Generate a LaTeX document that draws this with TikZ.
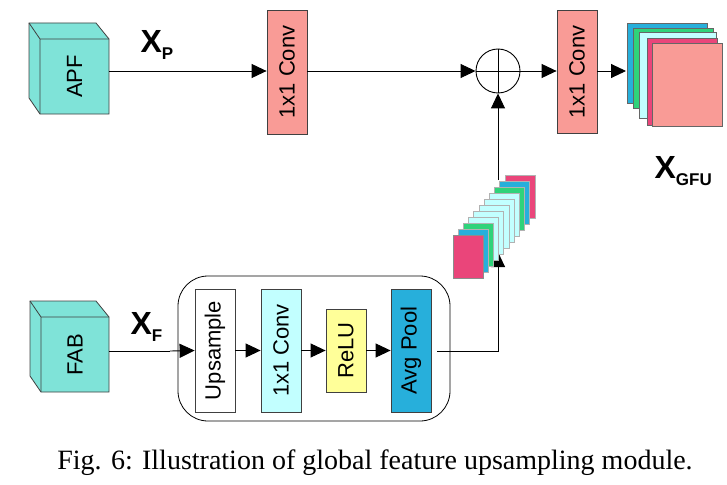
\documentclass[tikz,border=0pt]{standalone}
\usepackage{fontspec}
\setmainfont{Liberation Serif}
\setsansfont{Liberation Sans}
\usetikzlibrary{arrows.meta}
\definecolor{teal1}{HTML}{7FE3D8}
\definecolor{pinkc}{HTML}{F99B96}
\definecolor{cyanc}{HTML}{C2FFFF}
\definecolor{yel}{HTML}{FFFF99}
\definecolor{bluec}{HTML}{27AFDB}
\definecolor{greenc}{HTML}{2FD37A}
\definecolor{magc}{HTML}{EA457A}
\begin{document}
\begin{tikzpicture}[x=1pt,y=-1pt,
  lbl/.style={font=\sffamily\fontsize{22}{22}\selectfont},
  blk/.style={draw=black!75,line width=0.8pt,minimum width=40pt,inner sep=0pt,lbl},
  arr/.style={line width=0.9pt,-{Triangle[length=15pt,width=14pt]}},
  ln/.style={line width=0.9pt},
  xl/.style={font=\sffamily\bfseries\fontsize{32}{32}\selectfont}]
\useasboundingbox (0,0) rectangle (727,484);
\newcommand{\mycube}[6]{%
  \fill[teal1,draw=black!75,line width=0.8pt] (#1-11,#2-16) -- (#3-13,#2-16) -- (#3,#2) -- (#3,#4) -- (#1,#4) -- (#1-11,#4-16) -- cycle;
  \draw[black!75,line width=0.8pt] (#1-11,#2-16) -- (#1,#2) -- (#1,#4) (#1,#2) -- (#3,#2);
  \node[lbl] (#5) at ({(#1+#3)/2},{(#2+#4)/2}) {\rotatebox{90}{\MakeUppercase{#5}}};
  \coordinate (#5r) at (#3,#6);}
\mycube{40}{39}{109}{114}{apf}{71}
\mycube{41}{317}{109}{392}{fab}{351}
% top row
\node[blk,fill=pinkc,minimum height=124pt] (c1) at (287,72) {\rotatebox{90}{1x1 Conv}};
\node[draw,line width=0.9pt,circle,minimum size=44pt,inner sep=0pt] (plus) at (498,71) {};
\draw[line width=0.9pt] (plus.north)--(plus.south) (plus.west)--(plus.east);
\node[blk,fill=pinkc,minimum height=123pt] (c2) at (577,72) {\rotatebox{90}{1x1 Conv}};
\draw[ln] (apfr) -- (250,71);
\draw[arr] (250,71) -- (c1.west |- 0,71);
\draw[ln] (c1.east |- 0,71) -- (430,71);
\draw[arr] (430,71) -- (plus.west);
\draw[ln] (plus.east) -- (520,71);
\draw[arr] (520,71) -- (c2.west |- 0,71);
\coordinate (fm) at (626,71);
\draw[arr] (c2.east |- 0,71) -- (fm);
% feature maps
\foreach \x/\y/\w/\h/\c in {627/23/80/80/bluec,633/28/80/80/greenc,639/32/77/86/cyanc,647/38/70/87/magc,652/43/70/83/pinkc}
  \fill[\c,draw=black!60,line width=0.6pt] (\x,\y) rectangle ++(\w,\h);
\node[xl,anchor=base west] (xg) at (651,178) {X\raisebox{-7pt}{\fontsize{17}{17}\selectfont GFU}};
\node[xl,anchor=base west] (xp) at (137,53) {X\raisebox{-7pt}{\fontsize{17}{17}\selectfont P}};
\node[xl,anchor=base west] (xf) at (127,334) {X\raisebox{-7pt}{\fontsize{17}{17}\selectfont F}};
% bottom module
\node[draw,line width=0.8pt,rounded corners=30pt,minimum width=272pt,minimum height=145pt] (mod) at (314,348.5) {};
\node[blk,fill=white,minimum height=123pt] (up) at (215,350.5) {\rotatebox{90}{Upsample}};
\node[blk,fill=cyanc,minimum height=123pt] (cv) at (281,350.5) {\rotatebox{90}{1x1 Conv}};
\node[blk,fill=yel,minimum height=83pt] (relu) at (346,350.5) {\rotatebox{90}{ReLU}};
\node[blk,fill=bluec,minimum height=123pt] (ap) at (411,350.5) {\rotatebox{90}{Avg Pool}};
\draw[ln] (fabr) -- (170,351);
\draw[arr] (170,351) -- (up.west);
\draw[arr] (up.east) -- (cv.west);
\draw[arr] (cv.east) -- (relu.west);
\draw[arr] (relu.east) -- (ap.west);
\coordinate (vb) at (498,252);
\draw[ln] (437,351) -- (498,351) -- (vb);
\draw[arr] (498,266) -- (vb);
% vector
\foreach \i/\c in {9/magc,8/bluec,7/greenc,6/cyanc,5/cyanc,4/cyanc,3/cyanc,2/cyanc,1/greenc,0/bluec}
  \fill[\c,draw=black!30,line width=0.3pt] ({453+5+5.2*\i},{235-6-6*\i}) rectangle ++(30,43);
\fill[magc,draw=black!45,line width=0.4pt] (453,235) rectangle ++(30,43);
\coordinate (vt) at (498,180);
\draw[arr] (vt) -- (plus.south);
% caption
\node[font=\fontsize{28}{28}\selectfont] (cap) at (375,463) {Fig. 6: Illustration of global feature upsampling module.};
\end{tikzpicture}
\end{document}
